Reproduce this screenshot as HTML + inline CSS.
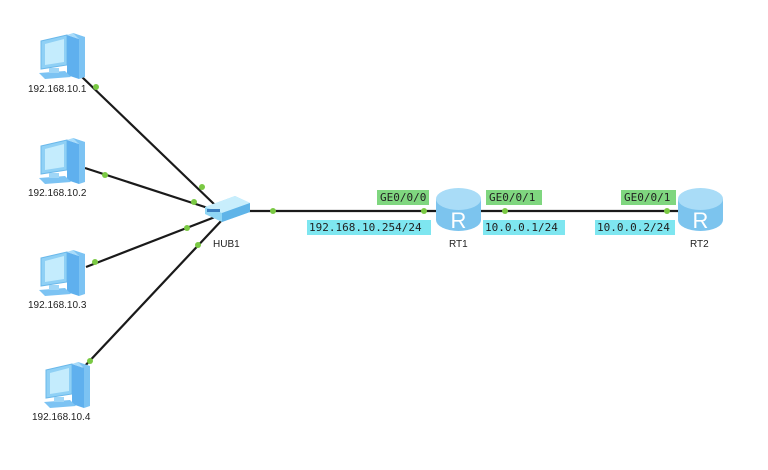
<!DOCTYPE html>
<html><head><meta charset="utf-8"><style>
html,body{margin:0;padding:0;background:#fff;width:768px;height:470px;overflow:hidden}
svg text{font-family:"Liberation Sans",sans-serif}
.m{font-family:"DejaVu Sans Mono","Liberation Mono",monospace;font-size:11px;fill:#222}
</style></head><body>
<svg width="768" height="470" viewBox="0 0 768 470" xmlns="http://www.w3.org/2000/svg">
<defs>
<g id="pc">
 <polygon points="4,6 30,0 30,30 4,34" fill="#8fd0f5" stroke="#6ab8ea"/>
 <polygon points="8,9 27,4 27,27 8,30" fill="#c4ecfd"/>
 <polygon points="30,0 42,4 42,44 30,40" fill="#5fb0ee"/>
 <polygon points="30,0 36,-2 48,2 42,4" fill="#a9dcfa"/>
 <polygon points="36,-2 48,2 48,42 42,44 42,4" fill="#7cc3f3"/>
 <polygon points="2,38 28,36 34,42 8,44" fill="#7cc3f3"/>
 <rect x="12" y="33" width="10" height="5" fill="#9fd6f7"/>
</g>
<g id="rt">
 <path d="M0,12 L0,33 A22.5,11 0 0 0 45,33 L45,12 Z" fill="#7cc4ee"/>
 <ellipse cx="22.5" cy="12" rx="22.5" ry="11" fill="#a9dcf7"/>
 <text x="22.5" y="41" font-size="22" fill="#fff" text-anchor="middle">R</text>
</g>
</defs>
<g stroke="#1a1a1a" stroke-width="2.2" fill="none">
 <line x1="82" y1="77" x2="215" y2="205"/>
 <line x1="85" y1="168" x2="208" y2="208"/>
 <line x1="86" y1="267" x2="215" y2="217"/>
 <line x1="83" y1="368" x2="222" y2="220"/>
 <line x1="248" y1="211" x2="437" y2="211"/>
 <line x1="481" y1="211" x2="680" y2="211"/>
</g>
<use href="#pc" x="37" y="35"/>
<use href="#pc" x="37" y="140"/>
<use href="#pc" x="37" y="252"/>
<use href="#pc" x="42" y="364"/>
<g>
 <polygon points="205,207 235,196 250,203 250,212 222,222 205,214" fill="#8fd6f5"/>
 <polygon points="205,207 235,196 250,203 222,213" fill="#c8eefc"/>
 <polygon points="222,213 250,203 250,212 222,222" fill="#5fb4e8"/>
 <rect x="207" y="209" width="13" height="3" fill="#3b7fc0"/>
</g>
<use href="#rt" x="436" y="187"/>
<use href="#rt" x="678" y="187"/>
<g fill="#7ac943">
 <circle cx="96" cy="87" r="3"/><circle cx="202" cy="187" r="3"/>
 <circle cx="105" cy="175" r="3"/><circle cx="194" cy="202" r="3"/>
 <circle cx="95" cy="262" r="3"/><circle cx="187" cy="228" r="3"/>
 <circle cx="90" cy="361" r="3"/><circle cx="198" cy="245" r="3"/>
 <circle cx="273" cy="211" r="3"/><circle cx="424" cy="211" r="3"/>
 <circle cx="505" cy="211" r="3"/><circle cx="667" cy="211" r="3"/>
</g>
<g font-size="10" fill="#222">
 <text x="28" y="92">192.168.10.1</text>
 <text x="28" y="196">192.168.10.2</text>
 <text x="28" y="308">192.168.10.3</text>
 <text x="32" y="420">192.168.10.4</text>
 <text x="213" y="247">HUB1</text>
 <text x="449" y="247">RT1</text>
 <text x="690" y="247">RT2</text>
</g>
<rect x="377" y="190" width="52" height="15" fill="#7fd67f"/>
<rect x="486" y="190" width="56" height="15" fill="#7fd67f"/>
<rect x="621" y="190" width="55" height="15" fill="#7fd67f"/>
<rect x="307" y="220" width="124" height="15" fill="#7ee6f0"/>
<rect x="483" y="220" width="82" height="15" fill="#7ee6f0"/>
<rect x="595" y="220" width="80" height="15" fill="#7ee6f0"/>
<text class="m" x="380" y="201">GE0/0/0</text>
<text class="m" x="489" y="201">GE0/0/1</text>
<text class="m" x="624" y="201">GE0/0/1</text>
<text class="m" x="309" y="231">192.168.10.254/24</text>
<text class="m" x="485" y="231">10.0.0.1/24</text>
<text class="m" x="597" y="231">10.0.0.2/24</text>
</svg>
</body></html>
